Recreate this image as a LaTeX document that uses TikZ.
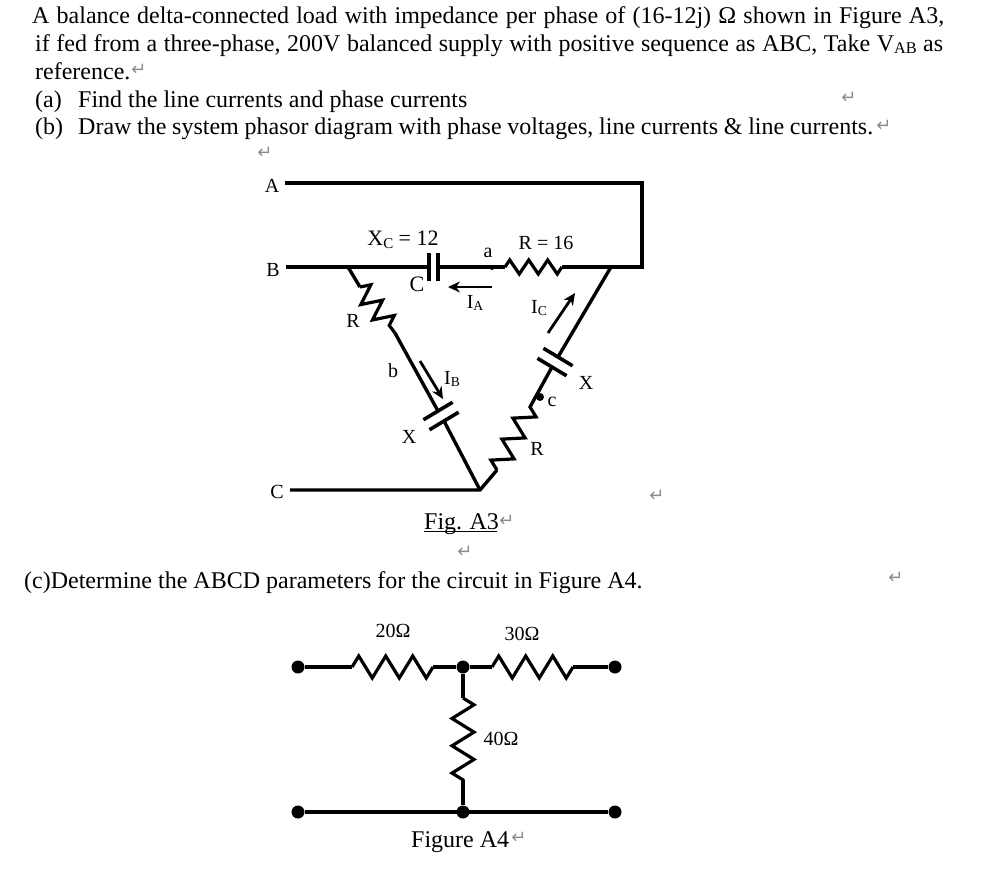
\documentclass[tikz,border=0pt]{standalone}
\usepackage{fontspec}
\setmainfont{Liberation Serif}
\newfontfamily\markfont{DejaVu Sans}
\usetikzlibrary{arrows.meta,calc,decorations.pathmorphing}
\newcommand{\Sub}[1]{\raisebox{-0.12em}{\scalebox{0.68}{#1}}}
\tikzset{
    para/.style={anchor=base west,inner sep=0pt,font=\fontsize{24}{28}\selectfont},
    lab/.style={inner sep=0pt,font=\fontsize{20}{24}\selectfont},
    biglab/.style={inner sep=0pt,font=\fontsize{22}{26}\selectfont},
    retmark/.style={inner sep=0pt,text=black!45,font=\markfont\fontsize{18}{20}\selectfont},
    wire/.style={line width=3.4pt},
    fatwire/.style={line width=3.8pt},
    res/.style 2 args={line width=3.2pt,decorate,decoration={zigzag,segment length=#1,amplitude=#2}},
    plate/.style={line width=3.6pt},
    cur/.style={line width=2.8pt,-{Stealth[length=12pt,width=11pt]}},
    dot/.style={circle,fill=black,inner sep=0pt,minimum size=#1}
}
\newcommand{\capac}[3]{
    \draw[plate] ($(#1)!#3!90:(#2)$) -- ($(#1)!#3!-90:(#2)$);
    \draw[plate] ($(#2)!#3!90:(#1)$) -- ($(#2)!#3!-90:(#1)$);
}
\begin{document}
\begin{tikzpicture}
    [x=1pt,y=1pt]
    \useasboundingbox (0,0) rectangle (988,-868);
    \node[para] (lineone) at (32,-23) {\makebox[912pt][s]{A balance delta-connected load with impedance per phase of (16-12j) Ω shown in Figure A3,}};
    \node[para] (linetwo) at (35,-51) {\makebox[908pt][s]{if fed from a three-phase, 200V balanced supply with positive sequence as ABC, Take V\Sub{AB} as}};
    \node[para] (linethree) at (35,-79) {reference.};
    \node[para] (parta) at (35,-107) {(a)};
    \node[para] (partatext) at (78,-107) {Find the line currents and phase currents};
    \node[para] (partb) at (35,-134) {(b)};
    \node[para] (partbtext) at (78,-134) {\makebox[795pt][s]{Draw the system phasor diagram with phase voltages, line currents \& line currents.}};
    \node[para] (figthree) at (424,-529) {\makebox[73pt][s]{\rlap{\rule[-3pt]{73pt}{1pt}}Fig. A3}};
    \node[para] (partc) at (24,-588) {(c)Determine the ABCD parameters for the circuit in Figure A4.};
    \node[para] (figfour) at (411,-847) {Figure A4};
    \foreach \name/\px/\py in {r1/139/70,r2/849/98,r3/884/126,r4/265/153,r5/657/496,r6/507/521,r7/465/552,r8/896/578,r9/519/838}
        \node[retmark] (\name) at (\px,-\py) {↵};

    \coordinate (lineA) at (285,-183);
    \coordinate (cornerA) at (642,-183);
    \coordinate (cornerB) at (642,-267);
    \coordinate (lineB) at (286,-267);
    \coordinate (lineC) at (290,-490);
    \coordinate (starB) at (348,-267);
    \coordinate (starC) at (611,-267);
    \coordinate (bottom) at (480,-490);
    \coordinate (capAl) at (429,-267);
    \coordinate (capAr) at (438,-267);
    \coordinate (resAl) at (505,-267);
    \coordinate (resAr) at (562,-267);
    \coordinate (resBa) at (360,-287);
    \coordinate (resBb) at (395,-333);
    \coordinate (capBa) at (438,-411);
    \coordinate (capBb) at (444,-421);
    \coordinate (capCa) at (558,-357);
    \coordinate (capCb) at (552,-367);
    \coordinate (resCa) at (530,-407);
    \coordinate (resCb) at (497,-470);
    \node[dot=4pt] (nodea) at (492,-268) {};
    \node[dot=8pt] (nodec) at (540,-397) {};

    \draw[wire] (lineA) -- (cornerA) -- (cornerB) -- (resAr);
    \draw[wire] (lineB) -- (capAl);
    \draw[wire] (capAr) -- (resAl);
    \draw[res={19pt}{7pt}] (resAl) -- (resAr);
    \draw[wire] (starB) -- (resBa);
    \draw[res={19.3pt}{10pt}] (resBa) -- (resBb);
    \draw[wire] (resBb) -- (capBa);
    \draw[wire] (capBb) -- (bottom);
    \draw[wire] (lineC) -- (bottom) -- (resCb);
    \draw[res={23.7pt}{10pt}] (resCb) -- (resCa);
    \draw[wire] (resCa) -- (capCb);
    \draw[wire] (capCa) -- (starC);
    \capac{capAl}{capAr}{14pt}
    \capac{capBa}{capBb}{17pt}
    \capac{capCa}{capCb}{17pt}

    \coordinate (curAs) at (492,-287);
    \coordinate (curAe) at (448,-287);
    \coordinate (curBs) at (420,-361);
    \coordinate (curBe) at (443,-399);
    \coordinate (curCs) at (548,-333);
    \coordinate (curCe) at (575,-293);
    \draw[cur] (curAs) -- (curAe);
    \draw[cur] (curBs) -- (curBe);
    \draw[cur] (curCs) -- (curCe);

    \node[lab] (labA) at (272,-186) {A};
    \node[lab] (labB) at (273,-270) {B};
    \node[lab] (labC) at (277,-492) {C};
    \node[biglab] (labXc) at (403,-240) {X\Sub{C} = 12};
    \node[lab] (labRa) at (546,-243) {R = 16};
    \node[lab] (laba) at (488,-253) {a};
    \node[biglab] (labCap) at (417,-284) {C};
    \node[lab] (labIa) at (475,-303) {I\Sub{A}};
    \node[lab] (labIc) at (539,-308) {I\Sub{C}};
    \node[lab] (labRb) at (353,-321) {R};
    \node[lab] (labb) at (393,-371) {b};
    \node[lab] (labIb) at (452,-379) {I\Sub{B}};
    \node[lab] (labXr) at (586,-383) {X};
    \node[lab] (labc) at (552,-402) {c};
    \node[lab] (labXl) at (409,-437) {X};
    \node[lab] (labRc) at (537,-449) {R};

    \node[dot=13pt] (inT) at (298,-667) {};
    \node[dot=13pt] (outT) at (615,-667) {};
    \node[dot=13pt] (midT) at (463,-667) {};
    \node[dot=13pt] (inB) at (298,-812) {};
    \node[dot=13pt] (outB) at (615,-812) {};
    \node[dot=13pt] (midB) at (463,-812) {};
    \coordinate (resOa) at (352,-667);
    \coordinate (resOb) at (433,-667);
    \coordinate (resTa) at (492,-667);
    \coordinate (resTb) at (573,-667);
    \coordinate (resFa) at (463,-698);
    \coordinate (resFb) at (463,-780);
    \draw[fatwire] (inT) -- (resOa);
    \draw[res={27pt}{11pt}] (resOa) -- (resOb);
    \draw[fatwire] (resOb) -- (midT) -- (resTa);
    \draw[res={27pt}{11pt}] (resTa) -- (resTb);
    \draw[fatwire] (resTb) -- (outT);
    \draw[fatwire] (midT) -- (resFa);
    \draw[res={27.3pt}{11pt}] (resFa) -- (resFb);
    \draw[fatwire] (resFb) -- (midB);
    \draw[fatwire] (inB) -- (outB);
    \node[lab] (labtw) at (393,-631) {20Ω};
    \node[lab] (labth) at (522,-634) {30Ω};
    \node[lab] (labfo) at (501,-739) {40Ω};
\end{tikzpicture}
\end{document}
